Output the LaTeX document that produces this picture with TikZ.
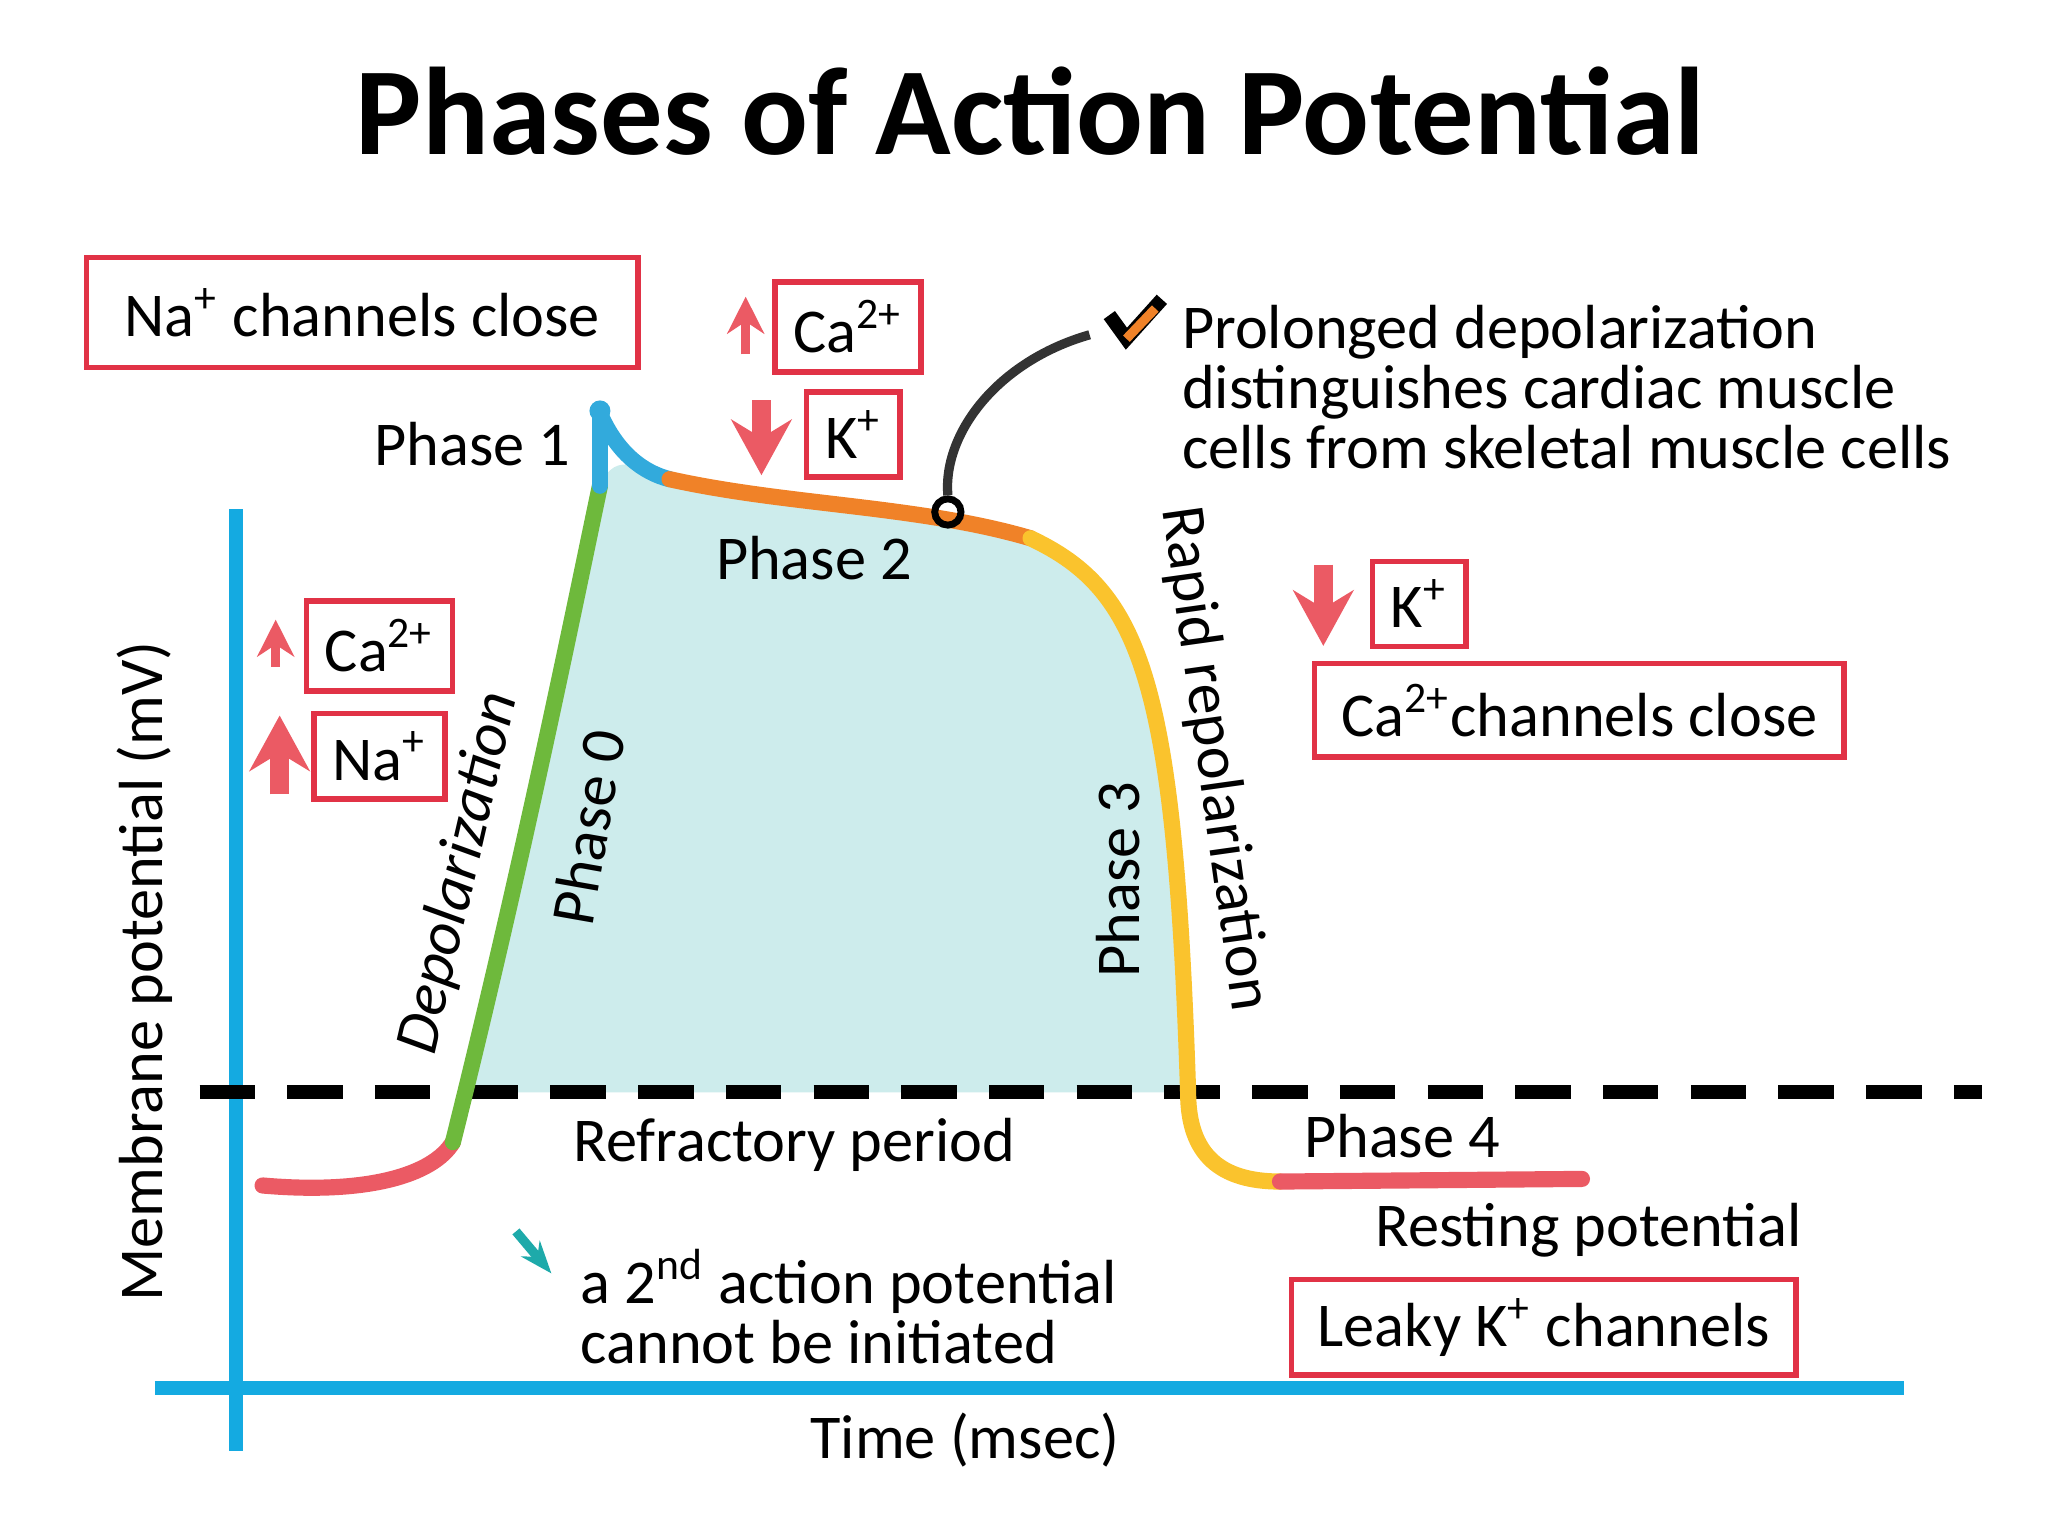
\documentclass[tikz,border=0pt]{standalone}
\usepackage{fontspec}
\setmainfont{Carlito}
\usetikzlibrary{arrows.meta}
\definecolor{ax}{RGB}{20,170,225}
\definecolor{bx}{RGB}{225,50,70}
\definecolor{ar}{RGB}{235,90,100}
\definecolor{gr}{RGB}{110,185,60}
\definecolor{bl}{RGB}{50,170,220}
\definecolor{orc}{RGB}{240,130,40}
\definecolor{ye}{RGB}{250,195,45}
\definecolor{fl}{RGB}{205,236,236}
\definecolor{tl}{RGB}{30,170,170}
\begin{document}
\begin{tikzpicture}[x=0.01cm,y=-0.01cm,
  lbl/.style={font=\fontsize{13.5}{16}\selectfont},
  box/.style={lbl,draw=bx,line width=1.2pt,inner sep=4pt},
  upa/.style={ar,line width=2pt,-{Stealth[length=8pt,width=8pt]}},
  bigup/.style={ar,line width=4pt,-{Stealth[length=12pt,width=13pt]}},
  crv/.style={line width=3.5pt,line cap=round}]
\useasboundingbox (0,0) rectangle (1560,1170);
\node[font=\fontsize{27}{32}\selectfont\bfseries] (title) at (785,85) {Phases of Action Potential};
% fill
\fill[fl] (360,832) .. controls (400,650) and (440,450) .. (457,370) .. controls (470,340) and (490,360) .. (510,365) .. controls (600,385) and (700,385) .. (785,410) .. controls (870,450) and (890,520) .. (905,832) -- cycle;
% axes
\draw[ax,line width=3pt] (180,388) -- (180,1105);
\draw[ax,line width=3pt] (118,1057) -- (1450,1057);
\draw[line width=3pt,dash pattern=on 12pt off 7pt] (152,832) -- (1510,832);
% curve
\draw[crv,ar] (200,903) .. controls (280,910) and (330,895) .. (345,870);
\draw[crv,gr] (345,870) .. controls (400,650) and (440,450) .. (457,370);
\draw[crv,bl] (457,370) -- (457,312);
\draw[crv,bl] (457,315) .. controls (470,345) and (490,360) .. (510,365);
\fill[bl] (457,313) circle (8);
\draw[crv,orc] (510,365) .. controls (600,385) and (700,385) .. (785,410);
\draw[crv,ye] (785,410) .. controls (870,450) and (895,520) .. (905,832) .. controls (905,880) and (930,900) .. (975,900);
\draw[crv,ar] (975,900) -- (1205,898);
% top labels
\node[box,minimum width=4.2cm,minimum height=0.84cm] (na) at (276,238) {Na\textsuperscript{+} channels close};
\node[box] (ca1) at (646,249) {Ca\textsuperscript{2+}};
\node[box] (k1) at (650,331) {K\textsuperscript{+}};
\coordinate (a1s) at (568,270); \coordinate (a1e) at (568,226);
\draw[upa] (a1s) -- (a1e);
\coordinate (a2s) at (580,305); \coordinate (a2e) at (580,362);
\draw[bigup] (a2s) -- (a2e);
\node[lbl] (p1) at (360,338) {Phase 1};
\node[lbl] (p2) at (620,425) {Phase 2};
\node[lbl,align=left,anchor=west] (prol) at (888,295) {Prolonged depolarization\\[-3pt]distinguishes cardiac muscle\\[-3pt]cells from skeletal muscle cells};
\draw[line width=3pt] (845,240) -- (858,258) -- (885,228);
\draw[orc,line width=2pt] (858,258) -- (880,235);
\node[draw,circle,line width=1.5pt,inner sep=0pt,minimum size=0.2cm] (cir) at (722,390) {};
\draw[line width=2pt,black!80] (830,255) .. controls (760,275) and (718,330) .. (cir.north);
% left
\node[box] (ca2) at (289,492) {Ca\textsuperscript{2+}};
\node[box] (na2) at (289,576) {Na\textsuperscript{+}};
\coordinate (a3s) at (210,508); \coordinate (a3e) at (210,472);
\draw[upa] (a3s) -- (a3e);
\coordinate (a4s) at (213,605); \coordinate (a4e) at (213,545);
\draw[bigup] (a4s) -- (a4e);
\node[lbl,rotate=77] (dep) at (350,665) {\itshape Depolarization};
\node[lbl,rotate=80] (p0) at (448,630) {Phase 0};
\node[lbl,rotate=90] (p3) at (852,670) {Phase 3};
\node[lbl,rotate=-82] (rr) at (925,578) {Rapid repolarization};
% right
\coordinate (a5s) at (1008,430); \coordinate (a5e) at (1008,492);
\draw[bigup] (a5s) -- (a5e);
\node[box] (k2) at (1081,460) {K\textsuperscript{+}};
\node[box,minimum width=4.03cm,minimum height=0.71cm] (cac) at (1203,541) {Ca\textsuperscript{2+}channels close};
\node[lbl] (p4) at (1068,865) {Phase 4};
\node[lbl] (rest) at (1210,937) {Resting potential};
\node[box,minimum width=3.84cm,minimum height=0.59cm] (leak) at (1176,1011) {Leaky K\textsuperscript{+} channels};
\node[lbl] (ref) at (605,872) {Refractory period};
\coordinate (t1) at (393,938); \coordinate (t2) at (420,970);
\draw[tl,line width=2pt,-{Stealth[length=7pt]}] (t1) -- (t2);
\node[lbl,align=left,anchor=west] (sec) at (430,995) {a 2\textsuperscript{nd} action potential\\[-3pt]cannot be initiated};
\node[lbl,rotate=90] (mp) at (110,740) {Membrane potential (mV)};
\node[lbl] (time) at (735,1097) {Time (msec)};
\end{tikzpicture}
\end{document}
